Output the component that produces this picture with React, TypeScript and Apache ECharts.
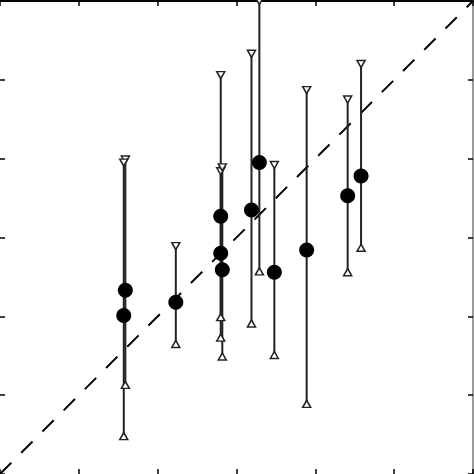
import { useEffect, useRef } from "react";
import * as echarts from "echarts";

// estimated positions, axis runs 0..6 on both sides (no labels shown)
const xValues = [1.59, 1.57, 2.23, 2.8, 2.8, 2.82, 3.19, 3.29, 3.48, 3.89, 4.41, 4.58];
const yValues = [2.33, 2.01, 2.18, 3.27, 2.8, 2.59, 3.35, 3.95, 2.56, 2.84, 3.53, 3.78];
const upperValues = [3.99, 3.95, 2.89, 5.06, 3.84, 3.89, 5.33, 6.0, 3.92, 4.87, 4.75, 5.2];
const lowerValues = [1.13, 0.48, 1.65, 1.99, 1.73, 1.49, 1.91, 2.57, 1.51, 0.89, 2.56, 2.87];
const identityLine = [
  [0, 0],
  [6, 6],
];

const AXIS_MIN = 0;
const AXIS_MAX = 6;
const BAR_COLOR = "#222222";

function valueAxis(position: string, lineColor: string, showLine: boolean) {
  return {
    type: "value",
    position,
    min: AXIS_MIN,
    max: AXIS_MAX,
    interval: 1,
    axisLine: { show: showLine, onZero: false, lineStyle: { color: lineColor, width: 2 } },
    axisTick: { show: true, inside: true, length: 5, lineStyle: { color: "#000", width: 1.5 } },
    axisLabel: { show: false },
    splitLine: { show: false },
  };
}

export default function App() {
  const containerRef = useRef<HTMLDivElement | null>(null);

  useEffect(() => {
    if (!containerRef.current) {
      return;
    }

    const chart = echarts.init(containerRef.current, undefined, { renderer: "svg" });

    const barData = xValues.map((x, i) => [x, lowerValues[i], upperValues[i]]);
    const pointData = xValues.map((x, i) => [x, yValues[i]]);
    const upperCaps = xValues.map((x, i) => [x, upperValues[i]]);
    const lowerCaps = xValues.map((x, i) => [x, lowerValues[i]]);

    const option: echarts.EChartsOption = {
      animation: false,
      backgroundColor: "#ffffff",
      grid: { left: 0, right: 1, top: 1, bottom: 0 },
      xAxis: [
        valueAxis("bottom", "#000", false),
        valueAxis("top", "#000", true),
      ] as any,
      yAxis: [
        valueAxis("left", "#000", false),
        valueAxis("right", "#9a9a9a", true),
      ] as any,
      series: [
        {
          type: "line",
          data: identityLine,
          symbol: "none",
          lineStyle: { color: "#000", width: 2, type: [16, 14] },
          z: 1,
        },
        {
          type: "custom",
          data: barData,
          renderItem: (params, api) => {
            const top = api.coord([api.value(0), api.value(2)]);
            const bottom = api.coord([api.value(0), api.value(1)]);
            return {
              type: "line",
              shape: { x1: top[0], y1: top[1], x2: bottom[0], y2: bottom[1] },
              style: { stroke: BAR_COLOR, lineWidth: 2 },
            };
          },
          z: 2,
        },
        {
          type: "scatter",
          data: upperCaps,
          symbol: "triangle",
          symbolRotate: 180,
          symbolSize: [8, 7],
          itemStyle: { color: "#ffffff", borderColor: BAR_COLOR, borderWidth: 1.5, opacity: 1 },
          z: 3,
        },
        {
          type: "scatter",
          data: lowerCaps,
          symbol: "triangle",
          symbolSize: [8, 7],
          itemStyle: { color: "#ffffff", borderColor: BAR_COLOR, borderWidth: 1.5, opacity: 1 },
          z: 3,
        },
        {
          type: "scatter",
          data: pointData,
          symbol: "circle",
          symbolSize: 15,
          itemStyle: { color: "#000000", opacity: 1 },
          z: 4,
        },
      ],
    };

    chart.setOption(option);

    return () => {
      chart.dispose();
    };
  }, []);

  return (
    <div
      ref={containerRef}
      style={{ position: "fixed", left: 0, top: 0, width: 474, height: 474, background: "#fff" }}
    />
  );
}
